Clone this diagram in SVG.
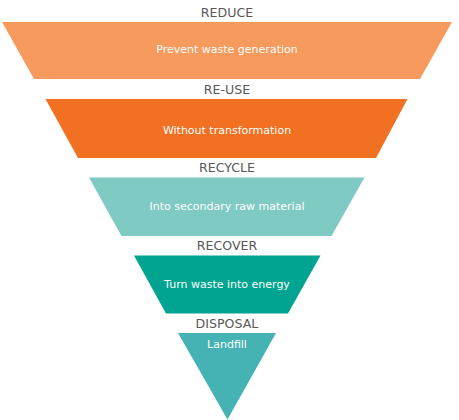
<svg xmlns="http://www.w3.org/2000/svg" width="459" height="420" viewBox="0 0 459 420">
<style>
.lbl{font-family:"DejaVu Sans",Verdana,sans-serif;font-size:12.6px;fill:#595959;text-anchor:middle}
.in{font-family:"DejaVu Sans",Verdana,sans-serif;font-size:11px;fill:#ffffff;text-anchor:middle}
</style>
<rect width="459" height="420" fill="#ffffff"/>
<g id="reduce">
<polygon points="2,22 452,22 420,79 34,79" fill="#F79A5E"/>
<text class="lbl" x="227" y="16.5">REDUCE</text>
<text class="in" x="227" y="53">Prevent waste generation</text>
</g>
<g id="reuse">
<polygon points="45.5,99 407.5,99 376,158 78,158" fill="#F27022"/>
<text class="lbl" x="227" y="94">RE-USE</text>
<text class="in" x="227" y="133.5">Without transformation</text>
</g>
<g id="recycle">
<polygon points="89,177.5 364.5,177.5 331.5,236 121.5,236" fill="#7FCAC3"/>
<text class="lbl" x="227" y="172">RECYCLE</text>
<text class="in" x="227" y="209.5">Into secondary raw material</text>
</g>
<g id="recover">
<polygon points="134,255.5 320.5,255.5 288,313.5 166,313.5" fill="#00A490"/>
<text class="lbl" x="227" y="250">RECOVER</text>
<text class="in" x="227" y="288">Turn waste into energy</text>
</g>
<g id="disposal">
<polygon points="178,333 276,333 227.5,419.5" fill="#45B3B3"/>
<text class="lbl" x="227" y="328">DISPOSAL</text>
<text class="in" x="227" y="348">Landfill</text>
</g>
<g id="connectors"/>
</svg>
